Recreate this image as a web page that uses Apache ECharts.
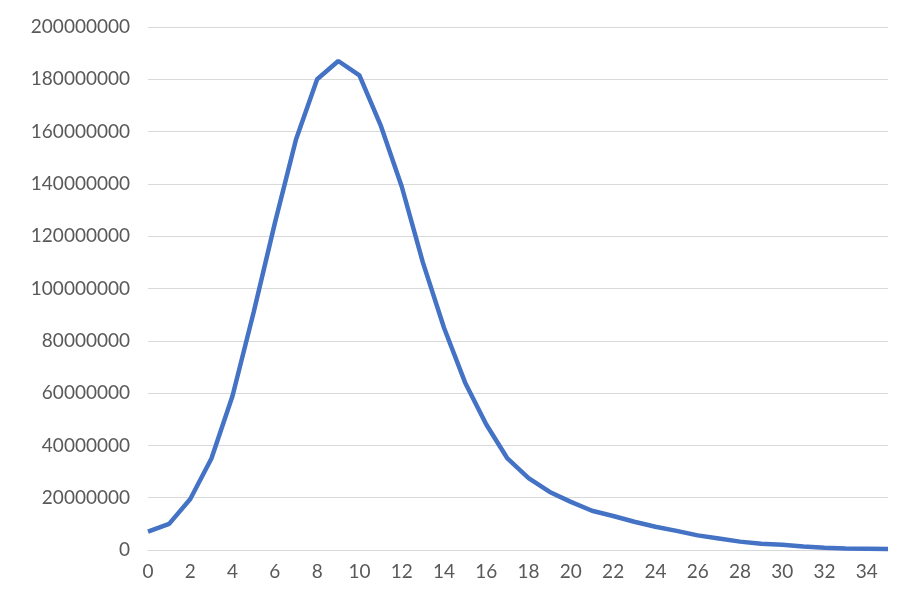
<!DOCTYPE html>
<html><head><meta charset="utf-8">
<script src="https://cdn.jsdelivr.net/npm/echarts@6/dist/echarts.min.js"></script>
<style>html,body{margin:0;padding:0;background:#fff}#c{width:911px;height:604px}</style>
</head><body><div id="c"></div>
<script>
const categories = Array.from({length:36},(_, i)=>String(i));
const values = [7e6,10e6,19.5e6,35e6,59e6,91e6,125e6,157e6,180e6,187e6,181.5e6,162.5e6,139e6,110e6,85e6,64e6,48e6,35e6,27.5e6,22.2e6,18.4e6,15e6,13e6,10.8e6,8.9e6,7.3e6,5.6e6,4.4e6,3.2e6,2.4e6,2e6,1.3e6,0.9e6,0.6e6,0.5e6,0.4e6];
const font = 'Lato, "Open Sans", sans-serif';
const chart = echarts.init(document.getElementById('c'));
chart.setOption({
  animation:false,
  grid:{left:148,right:23,top:27,bottom:54},
  xAxis:{type:'category',data:categories,boundaryGap:false,
    axisLine:{lineStyle:{color:'#d9d9d9'}},axisTick:{show:false},
    axisLabel:{interval:1,color:'#595959',fontSize:19,fontFamily:font,margin:12}},
  yAxis:{type:'value',min:0,max:200000000,interval:20000000,
    axisLine:{show:false},axisTick:{show:false},
    splitLine:{lineStyle:{color:'#d9d9d9'}},
    axisLabel:{color:'#595959',fontSize:19,fontFamily:font,margin:18,formatter:v=>String(v)}},
  series:[{type:'line',data:values,symbol:'none',lineStyle:{color:'#4472c4',width:4.5}}]
});
</script></body></html>
